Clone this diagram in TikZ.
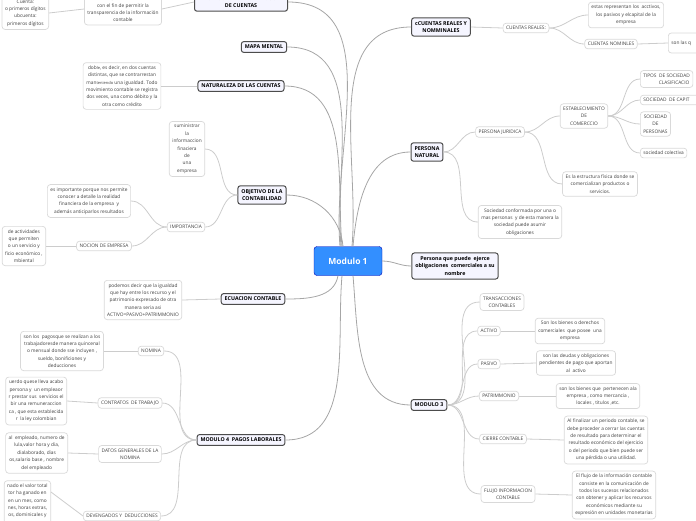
\documentclass[tikz,border=0pt]{standalone}
\usepackage{fontspec}
\setmainfont{Open Sans}
\begin{document}
\begin{tikzpicture}[x=1pt,y=-1pt,
  conn/.style={draw=black!35,line width=0.8pt},
  lconn/.style={draw=black!20,line width=0.8pt},
  main/.style={draw=black!70,line width=1pt,fill=blue!4,rounded corners=2.5pt,align=center,font=\fontsize{5.3}{7.5}\selectfont\bfseries,inner sep=3.5pt},
  leaf/.style={draw=black!15,line width=0.7pt,fill=white,rounded corners=3pt,align=center,font=\fontsize{4.8}{7.4}\selectfont,text=black!75,inner sep=3pt},
  root/.style={draw=blue!70!black,fill=blue!55!cyan!80,rounded corners=3pt,text=white,font=\fontsize{8.5}{10}\selectfont\bfseries,minimum width=68pt,minimum height=29pt}]
\useasboundingbox (0,0) rectangle (696,520);
\clip (0,0) rectangle (696,520);
% root
\node[root] (m1) at (348,261) {Modulo 1};
% left main
\node[main,minimum width=93pt] (cat) at (241,2) {ESTRUCTURA EL CATALOGO\\DE CUENTAS};
\node[main] (mapa) at (264,47) {MAPA MENTAL};
\node[main] (nat) at (241,86) {NATURALEZA DE LAS CUENTAS};
\node[main] (obj) at (262,195) {OBJETIVO DE LA\\CONTABILIDAD};
\node[main] (ecu) at (253,299) {ECUACION CONTABLE};
\node[main] (m4) at (241,440) {MODULO 4 \ PAGOS LABORALES};
% right main
\node[main] (cr) at (441,27) {cCUENTAS REALES Y\\NOMMINALES};
\node[main] (pn) at (427,152) {PERSONA\\NATURAL};
\node[main] (pq) at (455,266) {Persona que puede \ ejerce\\obligaciones \ comerciales a su\\nombre};
\node[main] (m3) at (429,405) {MODULO 3};
% root connectors
\foreach \n/\dx in {cat/-8,mapa/-7,nat/-6,obj/-5}
  \draw[conn] ([xshift=\dx pt]m1.north) to[out=95,in=0] (\n.east);
\draw[conn] ([xshift=-10pt]m1.south) to[out=260,in=0] (ecu.east);
\draw[conn] ([xshift=-6pt]m1.south) to[out=265,in=0] (m4.east);
\foreach \n/\dx in {cr/4,pn/5}
  \draw[conn] ([xshift=\dx pt]m1.north) to[out=85,in=180] (\n.west);
\draw[conn] (m1.east) to[out=0,in=180] (pq.west);
\draw[conn] ([xshift=5pt]m1.south) to[out=275,in=180] (m3.west);
% left leaves
\node[leaf] (catl) at (123,9) {realizadas por los comerciantes\\con el fin de permitir la\\transparencia de la información\\contable};
\node[leaf,anchor=east] (catl2) at (49,13) {Cuenta:\\o primeros dígitos\\ubcuenta:\\primeros dígitos};
\draw[lconn] (cat.west) -- (catl.east);
\draw[lconn] (catl.west) -- (catl2.east);
\node[leaf] (natl) at (122,86) {dob{\fontsize{4}{5}\selectfont le}, es decir, en dos cuentas\\distintas, que se contrarrestan\\man{\fontsize{4}{5}\selectfont teniendo} una igualdad. Todo\\movimiento contable se registra\\dos veces, una como débito y la\\otra como crédito};
\draw[lconn] (nat.west) -- (natl.east);
\node[leaf] (sum) at (187,149) {suministrar\\la\\informaccion\\finaciera\\de\\una\\empresa};
\node[leaf] (imp) at (186,227) {IMPORTANCIA};
\draw[lconn] (obj.west) to[out=180,in=0] (sum.east);
\draw[lconn] (obj.west) to[out=180,in=0] (imp.east);
\node[leaf] (impl) at (89,201) {es importante porque nos permite\\conocer a detalle la realidad\\financiera de la empresa \ y\\además anticiparlos resultados};
\node[leaf] (noc) at (104,246) {NOCION DE EMPRESA};
\draw[lconn] (imp.west) to[out=180,in=0] (impl.east);
\draw[lconn] (imp.west) to[out=180,in=0] (noc.east);
\node[leaf,anchor=east] (nocl) at (46,246) {de actividades\\que permiten\\o un servicio y\\ficio económico ,\\mbiental};
\draw[lconn] (noc.west) -- (nocl.east);
\node[leaf] (ecul) at (143,300) {podemos decir que la igualdad\\que hay entre los recurso y el\\patrimonio expresado de otra\\manera seria asi\\ACTIVO=PASIVO+PATRIMMONIO};
\draw[lconn] (ecu.west) -- (ecul.east);
% modulo 4
\node[leaf] (nom) at (151,351) {NOMINA};
\node[leaf] (con) at (130,403) {CONTRATOS \ DE TRABAJO};
\node[leaf] (dat) at (130,454) {DATOS GENERALES DE LA\\NOMINA};
\node[leaf] (dev) at (122,516) {DEVENGADOS Y \ DEDUCCIONES};
\foreach \n in {nom,con,dat,dev} \draw[lconn] (m4.west) to[out=180,in=0] (\n.east);
\node[leaf] (noml) at (62,351) {son los \ pagosque se realizan a los\\trabajadoresde manera quincenal\\o mensual donde sse incluyen ,\\sueldo, bonificiones y\\deducciones};
\draw[lconn] (nom.west) -- (noml.east);
\node[leaf,anchor=east] (conl) at (67,401) {uerdo quese lleva acabo\\persona y \ un empleaor\\r prestar sus \ servicios el\\bir una remuneraccion\\ca , que esta establecida\\r \ la ley colombian};
\draw[lconn] (con.west) -- (conl.east);
\node[leaf,anchor=east] (datl) at (68,453) {al \ empleado, numero de\\lula,valor hora y dia,\\dialaborado, dias\\os,salario base , nombre\\del empleado};
\draw[lconn] (dat.west) -- (datl.east);
\node[leaf,anchor=east] (devl) at (51,504) {nado el valor total\\tor ha ganado en\\en un mes, como\\nes, horas extras,\\os, dominicales y\\};
\draw[lconn] (dev.west) -- ([yshift=12pt]devl.east);
% right leaves
\node[leaf] (crl) at (526,28) {CUENTAS REALES:};
\draw[lconn] (cr.east) -- (crl.west);
\node[leaf] (crr) at (626,15) {estas representan los \ acctivos,\\los pasivos y elcapital de la\\empresa};
\node[leaf] (cn) at (611,44) {CUENTAS NOMINLES};
\draw[lconn] (crl.east) to[out=0,in=180] (crr.west);
\draw[lconn] (crl.east) to[out=0,in=180] (cn.west);
\node[leaf,anchor=west,minimum height=20pt] (cnl) at (668,43) {son las q\hspace{20pt}};
\draw[lconn] (cn.east) -- (cnl.west);
\node[leaf] (pj) at (500,132) {PERSONA JURIDICA};
\node[leaf] (soc) at (520,222) {Sociedad conformada por una o\\mas personas \ y de esta manera la\\sociedad puede asumir\\obligaciones};
\draw[lconn] (pn.east) to[out=0,in=180] (pj.west);
\draw[lconn] (pn.east) to[out=0,in=180] (soc.west);
\node[leaf] (est) at (584,116) {ESTABLECIMIENTO\\DE\\COMERCCIO};
\node[leaf] (estr) at (600,184) {Es la estructura física donde se\\comercializan productos o\\servicios.};
\draw[lconn] (pj.east) to[out=0,in=180] (est.west);
\draw[lconn] (pj.east) to[out=0,in=180] (estr.west);
\node[leaf,anchor=west] (ts) at (640,79) {TIPOS \ DE SOCIEDAD\\\hspace{15pt}CLASIFICACIO};
\node[leaf,anchor=west] (sc) at (640,100) {SOCIEDAD \ DE CAPIT\hspace{10pt}};
\node[leaf,anchor=west] (sp) at (640,124) {SOCIEDAD\\DE\\PERSONAS};
\node[leaf,anchor=west] (sco) at (640,153) {sociedad colectiva};
\foreach \n in {ts,sc,sp,sco} \draw[lconn] (est.east) to[out=0,in=180] (\n.west);
% modulo 3
\node[leaf] (tr) at (502,302) {TRANSACCIONES\\CONTABLES};
\node[leaf] (ac) at (489,331) {ACTIVO};
\node[leaf] (pa) at (489,364) {PASIVO};
\node[leaf] (pt) at (499,396) {PATRIMMONIO};
\node[leaf] (ci) at (503,439) {CIERRE CONTABLE};
\node[leaf] (fl) at (508,494) {FLUJO INFORMACION\\CONTABLE};
\foreach \n in {tr,ac,pa,pt,ci,fl} \draw[lconn] (m3.east) to[out=0,in=180] (\n.west);
\node[leaf] (acl) at (570,331) {Son los bienes o derechos\\comerciales \ que posee \ una\\empresa};
\node[leaf] (pal) at (576,363) {son las deudas y obligaciones\\pendientes de pago que aportan\\al \ activo};
\node[leaf] (ptl) at (598,396) {son los bienes que \ pertenecen ala\\empresa , como mercancia ,\\locales , titulos ,etc.};
\node[leaf] (cil) at (606,440) {Al finalizar un periodo contable, se\\debe proceder a cerrar las cuentas\\de resultado para determinar el\\resultado económico del ejercicio\\o del periodo que bien puede ser\\una pérdida o una utilidad.};
\node[leaf] (fll) at (614,495) {El flujo de la información contable\\consiste en la comunicación de\\todos los sucesos relacionados\\con obtener y aplicar los recursos\\económicos mediante su\\expresión en unidades monetarias};
\draw[lconn] (ac.east) -- (acl.west);
\draw[lconn] (pa.east) -- (pal.west);
\draw[lconn] (pt.east) -- (ptl.west);
\draw[lconn] (ci.east) -- (cil.west);
\draw[lconn] (fl.east) -- (fll.west);
\end{tikzpicture}
\end{document}
